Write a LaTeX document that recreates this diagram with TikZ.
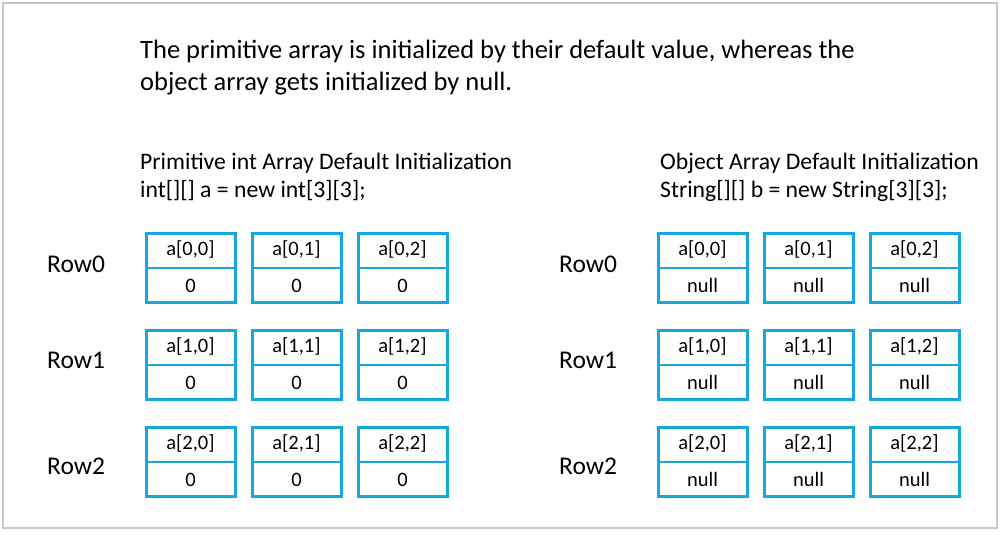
\documentclass[tikz,border=0pt]{standalone}
\usepackage{fontspec}
\setmainfont{Carlito}
\usetikzlibrary{calc}
\definecolor{cellblue}{RGB}{21,167,221}
\definecolor{framegray}{RGB}{200,200,200}
\tikzset{
  cell/.style={draw=cellblue, line width=3pt, minimum width=89pt, minimum height=69pt, inner sep=0pt},
  cellline/.style={draw=cellblue, line width=2pt},
  celltxt/.style={inner sep=0pt, font=\fontsize{20.5}{24}\selectfont},
  heading/.style={inner sep=0pt, anchor=base west, font=\fontsize{26.5}{30}\selectfont},
  subhead/.style={inner sep=0pt, anchor=base west, font=\fontsize{23.7}{26}\selectfont},
  rowlab/.style={inner sep=0pt, anchor=west, font=\fontsize{25.5}{28}\selectfont}
}
\begin{document}
\begin{tikzpicture}[x=1pt,y=-1pt]
\useasboundingbox (0,0) rectangle (1004,535);
\draw[framegray, line width=1.2pt] (3,3) rectangle (997,528);
\node[heading] (h1) at (140,59) {The primitive array is initialized by their default value, whereas the};
\node[heading] (h2) at (140,90) {object array gets initialized by null.};
\node[subhead] (s1) at (140,169) {Primitive int Array Default Initialization};
\node[subhead] (s2) at (140,197) {int[][] a = new int[3][3];};
\node[subhead] (t1) at (660,169) {Object Array Default Initialization};
\node[subhead] (t2) at (660,197) {String[][] b = new String[3][3];};
\foreach \r/\t/\ly in {0/233/264,1/330/360,2/427/466}{
  \node[rowlab] (LR\r) at (47,\ly) {Row\r};
  \node[rowlab] (RR\r) at (559,\ly) {Row\r};
  \foreach \c in {0,1,2}{
    \node[cell] (L\r\c) at ({190.5+106*\c},{\t+34.5}) {};
    \draw[cellline] (L\r\c.west) -- (L\r\c.east);
    \node[celltxt] (L\r\c-a) at ($(L\r\c.north)!0.25!(L\r\c.south)$) {a[\r,\c]};
    \node[celltxt] (L\r\c-b) at ($(L\r\c.north)!0.75!(L\r\c.south)$) {0};
    \node[cell] (R\r\c) at ({702.5+106*\c},{\t+34.5}) {};
    \draw[cellline] (R\r\c.west) -- (R\r\c.east);
    \node[celltxt] (R\r\c-a) at ($(R\r\c.north)!0.25!(R\r\c.south)$) {a[\r,\c]};
    \node[celltxt] (R\r\c-b) at ($(R\r\c.north)!0.75!(R\r\c.south)$) {null};
  }
}
\end{tikzpicture}
\end{document}
